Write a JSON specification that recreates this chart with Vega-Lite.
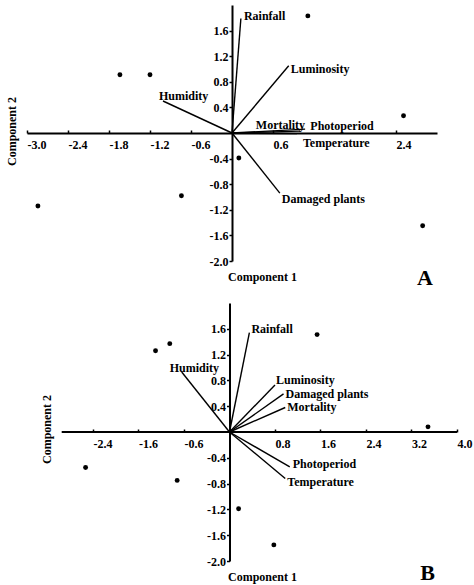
{
  "$schema": "https://vega.github.io/schema/vega-lite/v6.json",
  "background": "white",
  "padding": {"left": 5, "top": 5, "right": 5, "bottom": 5},
  "spacing": 42,
  "bounds": "flush",
  "datasets": {
    "a": [
      {"kind": "score", "label": "", "pc1": 1.11, "pc2": 1.83},
      {"kind": "score", "label": "", "pc1": -1.64, "pc2": 0.91},
      {"kind": "score", "label": "", "pc1": -1.2, "pc2": 0.91},
      {"kind": "score", "label": "", "pc1": 2.51, "pc2": 0.27},
      {"kind": "score", "label": "", "pc1": 0.1, "pc2": -0.39},
      {"kind": "score", "label": "", "pc1": -0.74, "pc2": -0.98},
      {"kind": "score", "label": "", "pc1": -2.84, "pc2": -1.14},
      {"kind": "score", "label": "", "pc1": 2.79, "pc2": -1.45},
      {"kind": "loading", "label": "Rainfall", "pc1": 0.13, "pc2": 1.79},
      {"kind": "loading", "label": "Luminosity", "pc1": 0.83, "pc2": 1.05},
      {"kind": "loading", "label": "Humidity", "pc1": -1.01, "pc2": 0.5},
      {"kind": "loading", "label": "Damaged plants", "pc1": 0.7, "pc2": -0.94},
      {"kind": "loading", "label": "Mortality", "pc1": 1.07, "pc2": 0.06},
      {"kind": "loading", "label": "Photoperiod", "pc1": 1.0, "pc2": 0.03},
      {"kind": "loading", "label": "Temperature", "pc1": 0.95, "pc2": -0.01}
    ],
    "b": [
      {"kind": "score", "label": "", "pc1": -1.3, "pc2": 1.26},
      {"kind": "score", "label": "", "pc1": -1.05, "pc2": 1.37},
      {"kind": "score", "label": "", "pc1": 1.54, "pc2": 1.51},
      {"kind": "score", "label": "", "pc1": 3.49, "pc2": 0.08},
      {"kind": "score", "label": "", "pc1": -2.53, "pc2": -0.55},
      {"kind": "score", "label": "", "pc1": -0.92, "pc2": -0.75},
      {"kind": "score", "label": "", "pc1": 0.16, "pc2": -1.19},
      {"kind": "score", "label": "", "pc1": 0.78, "pc2": -1.75},
      {"kind": "loading", "label": "Rainfall", "pc1": 0.35, "pc2": 1.54},
      {"kind": "loading", "label": "Humidity", "pc1": -0.84, "pc2": 0.93},
      {"kind": "loading", "label": "Luminosity", "pc1": 0.8, "pc2": 0.73},
      {"kind": "loading", "label": "Damaged plants", "pc1": 0.95, "pc2": 0.59},
      {"kind": "loading", "label": "Mortality", "pc1": 0.98, "pc2": 0.38},
      {"kind": "loading", "label": "Photoperiod", "pc1": 1.06, "pc2": -0.54},
      {"kind": "loading", "label": "Temperature", "pc1": 0.98, "pc2": -0.72}
    ]
  },
  "vconcat": [
    {
      "width": 410,
      "height": 256,
      "title": {"text": "A", "orient": "bottom", "anchor": "end", "frame": "group", "offset": 5, "dx": -4, "dy": -19},
      "data": {"name": "a"},
      "encoding": {
        "x": {
          "field": "pc1", "type": "quantitative",
          "scale": {"domain": [-3, 3], "nice": false, "zero": false},
          "axis": {
            "title": "Component 1", "orient": "bottom", "offset": -128,
            "values": [-3, -2.4, -1.8, -1.2, -0.6, 0.6, 2.4],
            "labelExpr": "replace(format(datum.value, '.1f'), '\u2212', '-')",
            "labelAlign": "left", "labelBaseline": "top",
            "tickSize": -3, "labelPadding": 9,
            "titleX": 235, "titleY": 143
          }
        },
        "y": {
          "field": "pc2", "type": "quantitative",
          "scale": {"domain": [-2, 2], "nice": false, "zero": false},
          "axis": {
            "title": "Component 2", "orient": "left", "offset": -205,
            "values": [-2, -1.6, -1.2, -0.8, -0.4, 0.4, 0.8, 1.2, 1.6],
            "labelExpr": "replace(format(datum.value, '.1f'), '\u2212', '-')",
            "tickSize": 3, "labelPadding": 1,
            "titleX": -221, "titleY": 126
          }
        }
      },
      "layer": [
        {
          "transform": [{"filter": "datum.kind == 'loading'"}],
          "mark": {"type": "rule", "color": "#000", "strokeWidth": 1.4},
          "encoding": {"x2": {"datum": 0}, "y2": {"datum": 0}}
        },
        {
          "transform": [{"filter": "datum.kind == 'score'"}],
          "mark": {"type": "circle", "color": "#000", "opacity": 1, "size": 24}
        },
        {
          "transform": [{"filter": "datum.label == 'Rainfall'"}],
          "mark": {"type": "text", "align": "left", "baseline": "middle", "dx": 3, "dy": -2},
          "encoding": {"text": {"field": "label"}}
        },
        {
          "transform": [{"filter": "datum.label == 'Luminosity'"}],
          "mark": {"type": "text", "align": "left", "baseline": "middle", "dx": 2, "dy": 3},
          "encoding": {"text": {"field": "label"}}
        },
        {
          "transform": [{"filter": "datum.label == 'Humidity'"}],
          "mark": {"type": "text", "align": "left", "baseline": "middle", "dx": -4, "dy": -5},
          "encoding": {"text": {"field": "label"}}
        },
        {
          "transform": [{"filter": "datum.label == 'Damaged plants'"}],
          "mark": {"type": "text", "align": "left", "baseline": "middle", "dx": 2, "dy": 6},
          "encoding": {"text": {"field": "label"}}
        },
        {
          "transform": [{"filter": "datum.label == 'Mortality'"}],
          "mark": {"type": "text", "align": "right", "baseline": "middle", "dx": 0, "dy": -4},
          "encoding": {"text": {"field": "label"}}
        },
        {
          "transform": [{"filter": "datum.label == 'Photoperiod'"}],
          "mark": {"type": "text", "align": "left", "baseline": "middle", "dx": 10, "dy": -5},
          "encoding": {"text": {"field": "label"}}
        },
        {
          "transform": [{"filter": "datum.label == 'Temperature'"}],
          "mark": {"type": "text", "align": "left", "baseline": "middle", "dx": 6, "dy": 9},
          "encoding": {"text": {"field": "label"}}
        }
      ]
    },
    {
      "width": 430,
      "height": 258,
      "title": {"text": "B", "orient": "bottom", "anchor": "end", "frame": "group", "offset": 1, "dx": -22, "dy": -20},
      "data": {"name": "b"},
      "encoding": {
        "x": {
          "field": "pc1", "type": "quantitative",
          "scale": {"domain": [-3.56, 4], "nice": false, "zero": false},
          "axis": {
            "title": "Component 1", "orient": "bottom", "offset": -129, "domain": false,
            "values": [-2.4, -1.6, -0.8, 0.8, 1.6, 2.4, 3.2, 4],
            "labelExpr": "datum.value == -0.8 ? '-0.6' : replace(format(datum.value, '.1f'), '\u2212', '-')",
            "labelAlign": "left", "labelBaseline": "top",
            "tickSize": -3, "labelPadding": 9,
            "titleX": 235, "titleY": 144
          }
        },
        "y": {
          "field": "pc2", "type": "quantitative",
          "scale": {"domain": [-2, 2], "nice": false, "zero": false},
          "axis": {
            "title": "Component 2", "orient": "left", "offset": -202.5,
            "values": [-2, -1.6, -1.2, -0.8, -0.4, 0.4, 0.8, 1.2, 1.6],
            "labelExpr": "replace(format(datum.value, '.1f'), '\u2212', '-')",
            "tickSize": 3, "labelPadding": 1,
            "titleX": -183.5, "titleY": 126
          }
        }
      },
      "layer": [
        {
          "transform": [{"filter": "datum.label == 'Rainfall'"}],
          "mark": {"type": "rule", "color": "#000", "strokeWidth": 2},
          "encoding": {
            "x": {"datum": -2.95, "type": "quantitative"},
            "x2": {"datum": 4},
            "y": {"datum": 0, "type": "quantitative"},
            "y2": {"datum": 0}
          }
        },
        {
          "transform": [{"filter": "datum.kind == 'loading'"}],
          "mark": {"type": "rule", "color": "#000", "strokeWidth": 1.4},
          "encoding": {"x2": {"datum": 0}, "y2": {"datum": 0}}
        },
        {
          "transform": [{"filter": "datum.kind == 'score'"}],
          "mark": {"type": "circle", "color": "#000", "opacity": 1, "size": 24}
        },
        {
          "transform": [{"filter": "datum.label == 'Rainfall'"}],
          "mark": {"type": "text", "align": "left", "baseline": "middle", "dx": 2, "dy": -4},
          "encoding": {"text": {"field": "label"}}
        },
        {
          "transform": [{"filter": "datum.label == 'Humidity'"}],
          "mark": {"type": "text", "align": "left", "baseline": "middle", "dx": -12, "dy": -4},
          "encoding": {"text": {"field": "label"}}
        },
        {
          "transform": [{"filter": "datum.label == 'Luminosity'"}],
          "mark": {"type": "text", "align": "left", "baseline": "middle", "dx": 1, "dy": -5},
          "encoding": {"text": {"field": "label"}}
        },
        {
          "transform": [{"filter": "datum.label == 'Damaged plants' || datum.label == 'Mortality'"}],
          "mark": {"type": "text", "align": "left", "baseline": "middle", "dx": 2, "dy": 0},
          "encoding": {"text": {"field": "label"}}
        },
        {
          "transform": [{"filter": "datum.label == 'Photoperiod'"}],
          "mark": {"type": "text", "align": "left", "baseline": "middle", "dx": 3, "dy": -3},
          "encoding": {"text": {"field": "label"}}
        },
        {
          "transform": [{"filter": "datum.label == 'Temperature'"}],
          "mark": {"type": "text", "align": "left", "baseline": "middle", "dx": 2, "dy": 4},
          "encoding": {"text": {"field": "label"}}
        }
      ]
    }
  ],
  "config": {
    "view": {"stroke": null},
    "axis": {
      "grid": false,
      "domainColor": "#000", "domainWidth": 2,
      "tickColor": "#000", "tickWidth": 1.5,
      "labelFont": "Liberation Serif", "labelFontSize": 12, "labelFontWeight": "bold", "labelColor": "#000",
      "labelOverlap": false, "labelFlush": false, "labelBound": false,
      "titleFont": "Liberation Serif", "titleFontSize": 12, "titleFontWeight": "bold", "titleColor": "#000",
      "titleBaseline": "middle", "titleAlign": "center"
    },
    "text": {"font": "Liberation Serif", "fontSize": 12, "fontWeight": "bold", "color": "#000"},
    "title": {"font": "Liberation Serif", "fontSize": 22, "fontWeight": "bold", "color": "#000"}
  }
}
